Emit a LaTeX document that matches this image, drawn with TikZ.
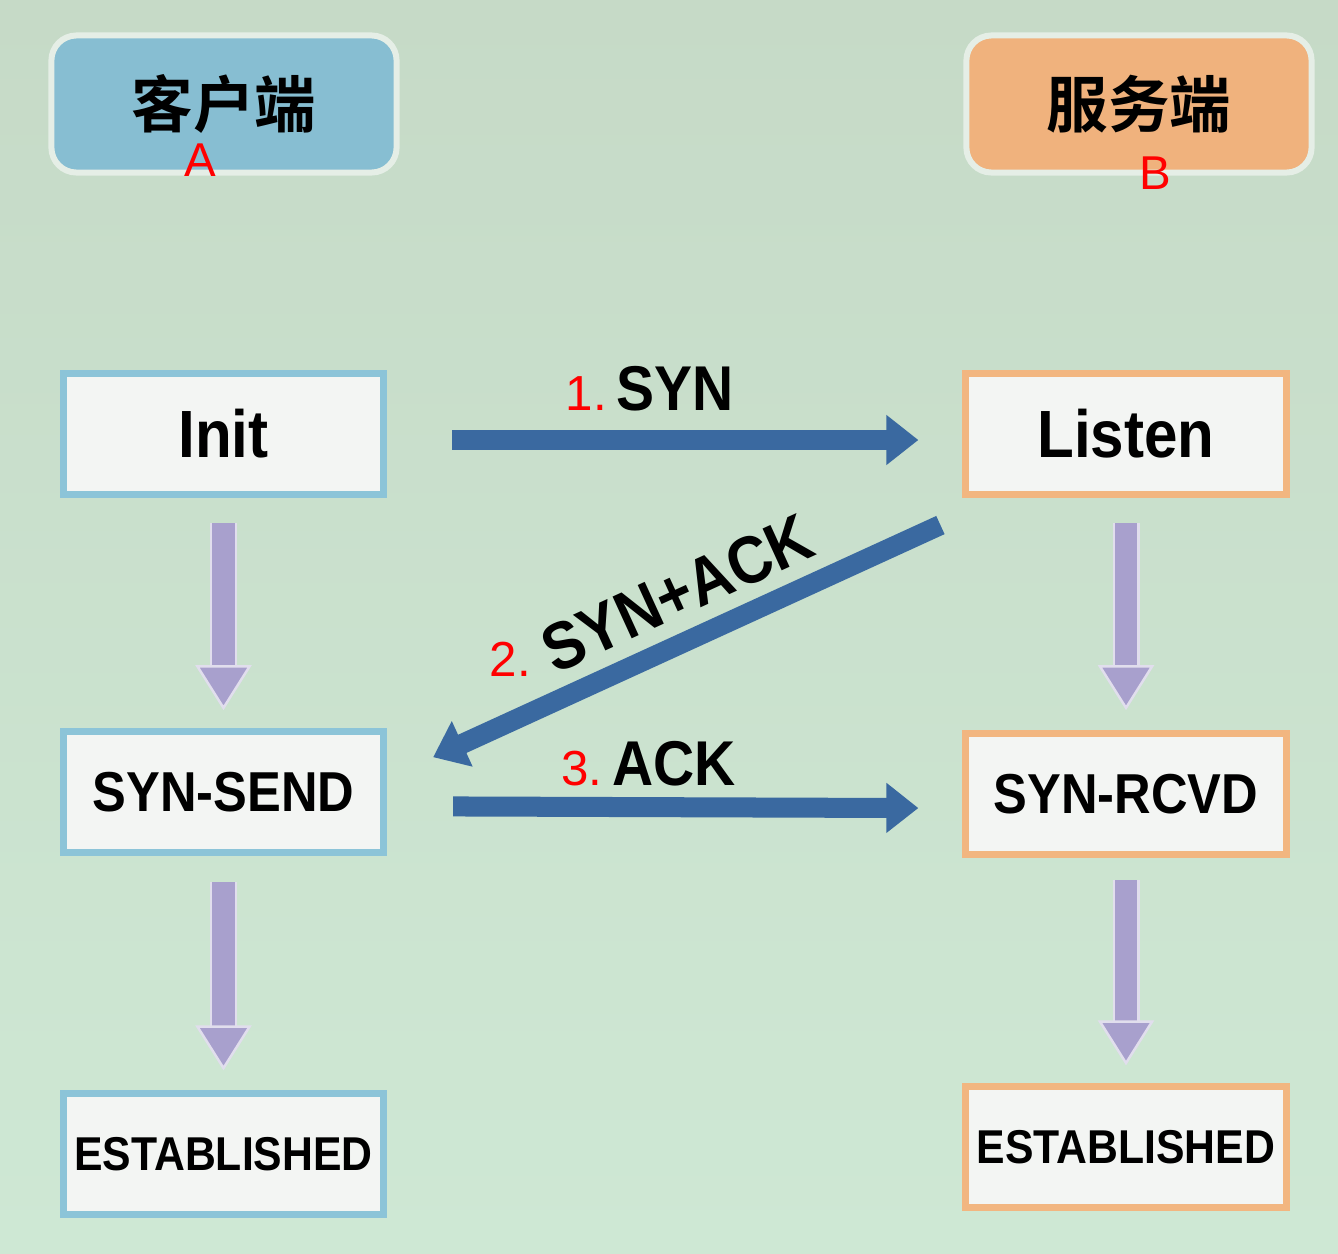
\documentclass[tikz,border=0pt]{standalone}
\usepackage{fontspec}
\usepackage{tikz}
\usetikzlibrary{arrows.meta,positioning}
\setmainfont{Liberation Sans}
\newfontfamily\boxfont[FakeStretch=0.9]{Liberation Sans}
\newfontfamily\cjk{Noto Sans CJK SC Bold}

\definecolor{bgtop}{RGB}{198,218,199}
\definecolor{bgbottom}{RGB}{206,232,212}
\definecolor{clientblue}{RGB}{135,190,210}
\definecolor{serverorange}{RGB}{240,178,125}
\definecolor{clientline}{RGB}{140,196,216}
\definecolor{serverline}{RGB}{242,182,128}
\definecolor{boxfill}{RGB}{243,245,243}
\definecolor{msgblue}{RGB}{58,105,160}
\definecolor{steppurple}{RGB}{168,160,205}
\definecolor{numred}{RGB}{255,0,0}

\newcommand\stepno[1]{{\normalfont\color{numred}\fontsize{14}{14}\selectfont #1}}

\begin{document}
\begin{tikzpicture}[x=0.01cm,y=-0.01cm,
    header/.style={draw=white!55!bgtop,line width=0.06cm,rounded corners=0.25cm,
      minimum width=3.45cm,minimum height=1.37cm,
      font=\cjk\fontsize{17.5}{17.5}\selectfont},
    state/.style={line width=0.07cm,fill=boxfill,minimum width=3.2cm,minimum height=1.21cm,
      inner sep=0pt,font=\boxfont\bfseries\fontsize{19}{19}\selectfont},
    cstate/.style={state,draw=clientline},
    sstate/.style={state,draw=serverline},
    small/.style={font=\boxfont\bfseries\fontsize{16}{16}\selectfont},
    tiny/.style={font=\boxfont\bfseries\fontsize{13.5}{13.5}\selectfont},
    tag/.style={inner sep=0pt,text=numred,font=\fontsize{13.5}{13.5}\selectfont},
    lbl/.style={inner sep=0pt,outer sep=0pt,font=\boxfont\bfseries\fontsize{18}{18}\selectfont},
    numlbl/.style={inner sep=0pt,outer sep=0pt,text=numred,font=\fontsize{14}{14}\selectfont},
    msg/.style={draw=msgblue,line width=0.2cm,-{Triangle[length=0.32cm,width=0.48cm]}},
    next/.style={draw=steppurple,line width=0.22cm,
      -{Triangle[length=0.45cm,width=0.56cm,line width=0.7pt,color=white!65!steppurple,fill=steppurple]},
      preaction={draw=white!65!steppurple,line width=0.27cm,-,shorten >=0.6cm}}]

  % background
  \useasboundingbox (0,0) rectangle (1338,1254);
  \shade[top color=bgtop,bottom color=bgbottom] (0,0) rectangle (1338,1254);

  % headers
  \node[header,fill=clientblue] (client) at (224,104) {客户端};
  \node[header,fill=serverorange] (server) at (1139,104) {服务端};
  \node[tag] (taga) at (200,160) {A};
  \node[tag] (tagb) at (1155,173) {B};

  % client states
  \node[cstate] (init) at (223.5,434) {Init};
  \node[cstate,small] (synsend) [below=2.3cm of init] {SYN-SEND};
  \node[cstate,tiny] (estc) [below=2.34cm of synsend] {ESTABLISHED};

  % server states
  \node[sstate] (listen) [right=5.75cm of init] {Listen};
  \node[sstate,small] (synrcvd) [below=2.32cm of listen] {SYN-RCVD};
  \node[sstate,tiny] (ests) [below=2.25cm of synrcvd] {ESTABLISHED};

  % state changes
  \draw[next,shorten <=0.25cm,shorten >=0.18cm] (init.south) -- (synsend.north);
  \draw[next,shorten <=0.26cm,shorten >=0.2cm] (synsend.south) -- (estc.north);
  \draw[next,shorten <=0.25cm,shorten >=0.2cm] (listen.south) -- (listen.south |- synrcvd.north);
  \draw[next,shorten <=0.22cm,shorten >=0.18cm] (synrcvd.south) -- (synrcvd.south |- ests.north);

  % handshake
  \draw[msg,shorten <=0.65cm,shorten >=0.44cm] ([yshift=-0.06cm]init.east)
    -- node[lbl,pos=0.457,above=0.29cm] {\stepno{1.}\hspace{0.1cm}SYN} ([yshift=-0.06cm]listen.west);
  \draw[msg] ([xshift=-0.22cm,yshift=-0.27cm]listen.south west)
    -- node[lbl,sloped,pos=0.48,above=0.24cm,font=\boxfont\bfseries\fontsize{19}{19}\selectfont] {SYN+ACK}
       node[numlbl,pos=0.848,above=0.45cm] {2.}
    ([xshift=0.46cm,yshift=-0.29cm]synsend.north east);
  \draw[msg,shorten <=0.66cm,shorten >=0.44cm] ([yshift=-0.14cm]synsend.east)
    -- node[lbl,pos=0.454,above=0.21cm] {\stepno{3.}\hspace{0.1cm}ACK} ([yshift=-0.14cm]synrcvd.west);
\end{tikzpicture}
\end{document}
